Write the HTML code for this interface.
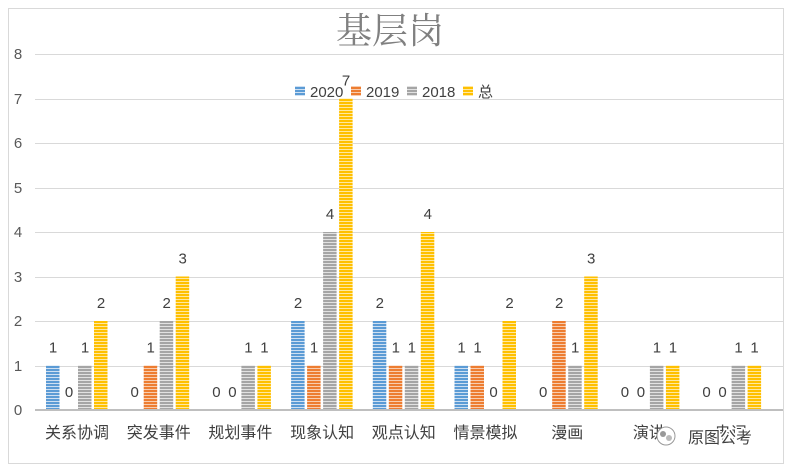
<!DOCTYPE html>
<html><head><meta charset="utf-8"><style>
body{margin:0;background:#fff}
svg text{font-family:"Liberation Sans","Noto Sans CJK SC",sans-serif}
</style></head><body>
<svg width="788" height="471" xmlns="http://www.w3.org/2000/svg">
<defs>
<pattern id="pb" width="4" height="3" patternUnits="userSpaceOnUse"><rect width="4" height="3" fill="#5B9BD5"/><rect y="2" width="4" height="1" fill="#cfe0f2"/></pattern>
<pattern id="po" width="4" height="3" patternUnits="userSpaceOnUse"><rect width="4" height="3" fill="#ED7D31"/><rect y="2" width="4" height="1" fill="#f8cdb0"/></pattern>
<pattern id="pg" width="4" height="3" patternUnits="userSpaceOnUse"><rect width="4" height="3" fill="#A5A5A5"/><rect y="2" width="4" height="1" fill="#e2e2e2"/></pattern>
<pattern id="py" width="4" height="3" patternUnits="userSpaceOnUse"><rect width="4" height="3" fill="#FFC000"/><rect y="2" width="4" height="1" fill="#ffe8a0"/></pattern>
</defs>
<rect x="8.5" y="8.5" width="775" height="455" fill="#fff" stroke="#d9d9d9"/>
<g stroke="#d9d9d9" stroke-width="1">
<line x1="35" x2="783" y1="54.5" y2="54.5"/><line x1="35" x2="783" y1="99.5" y2="99.5"/>
<line x1="35" x2="783" y1="143.5" y2="143.5"/><line x1="35" x2="783" y1="188.5" y2="188.5"/>
<line x1="35" x2="783" y1="232.5" y2="232.5"/><line x1="35" x2="783" y1="277.5" y2="277.5"/>
<line x1="35" x2="783" y1="321.5" y2="321.5"/><line x1="35" x2="783" y1="366.5" y2="366.5"/>
</g>
<g font-size="15" fill="#595959" text-anchor="middle">
<text x="18" y="415">0</text><text x="18" y="371">1</text><text x="18" y="326">2</text><text x="18" y="282">3</text><text x="18" y="237">4</text><text x="18" y="193">5</text><text x="18" y="148">6</text><text x="18" y="104">7</text><text x="18" y="59">8</text>
</g>
<text x="390" y="43" font-size="36" fill="#808080" text-anchor="middle" style="font-family:'Noto Serif CJK SC','Liberation Serif',serif">基层岗</text>
<g font-size="15" fill="#404040">
<rect x="295" y="86" width="10" height="10" fill="url(#pb)"/><text x="310" y="97">2020</text>
<rect x="351" y="86" width="10" height="10" fill="url(#po)"/><text x="366" y="97">2019</text>
<rect x="407" y="86" width="10" height="10" fill="url(#pg)"/><text x="422" y="97">2018</text>
<rect x="463" y="86" width="10" height="10" fill="url(#py)"/><text x="478" y="97">总</text>
</g>
<g id="bars"></g>
<line x1="35" x2="783" y1="410" y2="410" stroke="#bfbfbf" stroke-width="2"/>
<g font-size="16" fill="#404040" text-anchor="middle" id="cats"></g>
<g font-size="15" fill="#404040" text-anchor="middle" id="lbls"></g>
<g>
<circle cx="666" cy="436" r="9" fill="#fff" stroke="#999"/>
<circle cx="663" cy="434" r="3" fill="#999"/><circle cx="669" cy="438" r="3" fill="#bbb"/>
<text x="720" y="443" font-size="16" fill="#404040" text-anchor="middle" stroke="#fff" stroke-width="3" paint-order="stroke">原图公考</text>
</g>
<script>
var d=[["关系协调",[1,0,1,2]],["突发事件",[0,1,2,3]],["规划事件",[0,0,1,1]],["现象认知",[2,1,4,7]],["观点认知",[2,1,1,4]],["情景模拟",[1,1,0,2]],["漫画",[0,2,1,3]],["演讲",[0,0,1,1]],["串词",[0,0,1,1]]];
var f=["url(#pb)","url(#po)","url(#pg)","url(#py)"];
var ns="http://www.w3.org/2000/svg",B=document.getElementById("bars"),C=document.getElementById("cats"),L=document.getElementById("lbls");
d.forEach(function(c,i){var x0=46+81.7*i;
 var t=document.createElementNS(ns,"text");t.setAttribute("x",x0+31);t.setAttribute("y",438);t.textContent=c[0];C.appendChild(t);
 c[1].forEach(function(v,j){var x=x0+j*16,h=v*44.5;
  if(v>0){var r=document.createElementNS(ns,"rect");r.setAttribute("x",x);r.setAttribute("y",410-h);r.setAttribute("width",13.5);r.setAttribute("height",h);r.setAttribute("fill",f[j]);B.appendChild(r);}
  var l=document.createElementNS(ns,"text");l.setAttribute("x",x+7);l.setAttribute("y",410-h-13);l.textContent=v;L.appendChild(l);
 });
});
</script>
</svg>
</body></html>
